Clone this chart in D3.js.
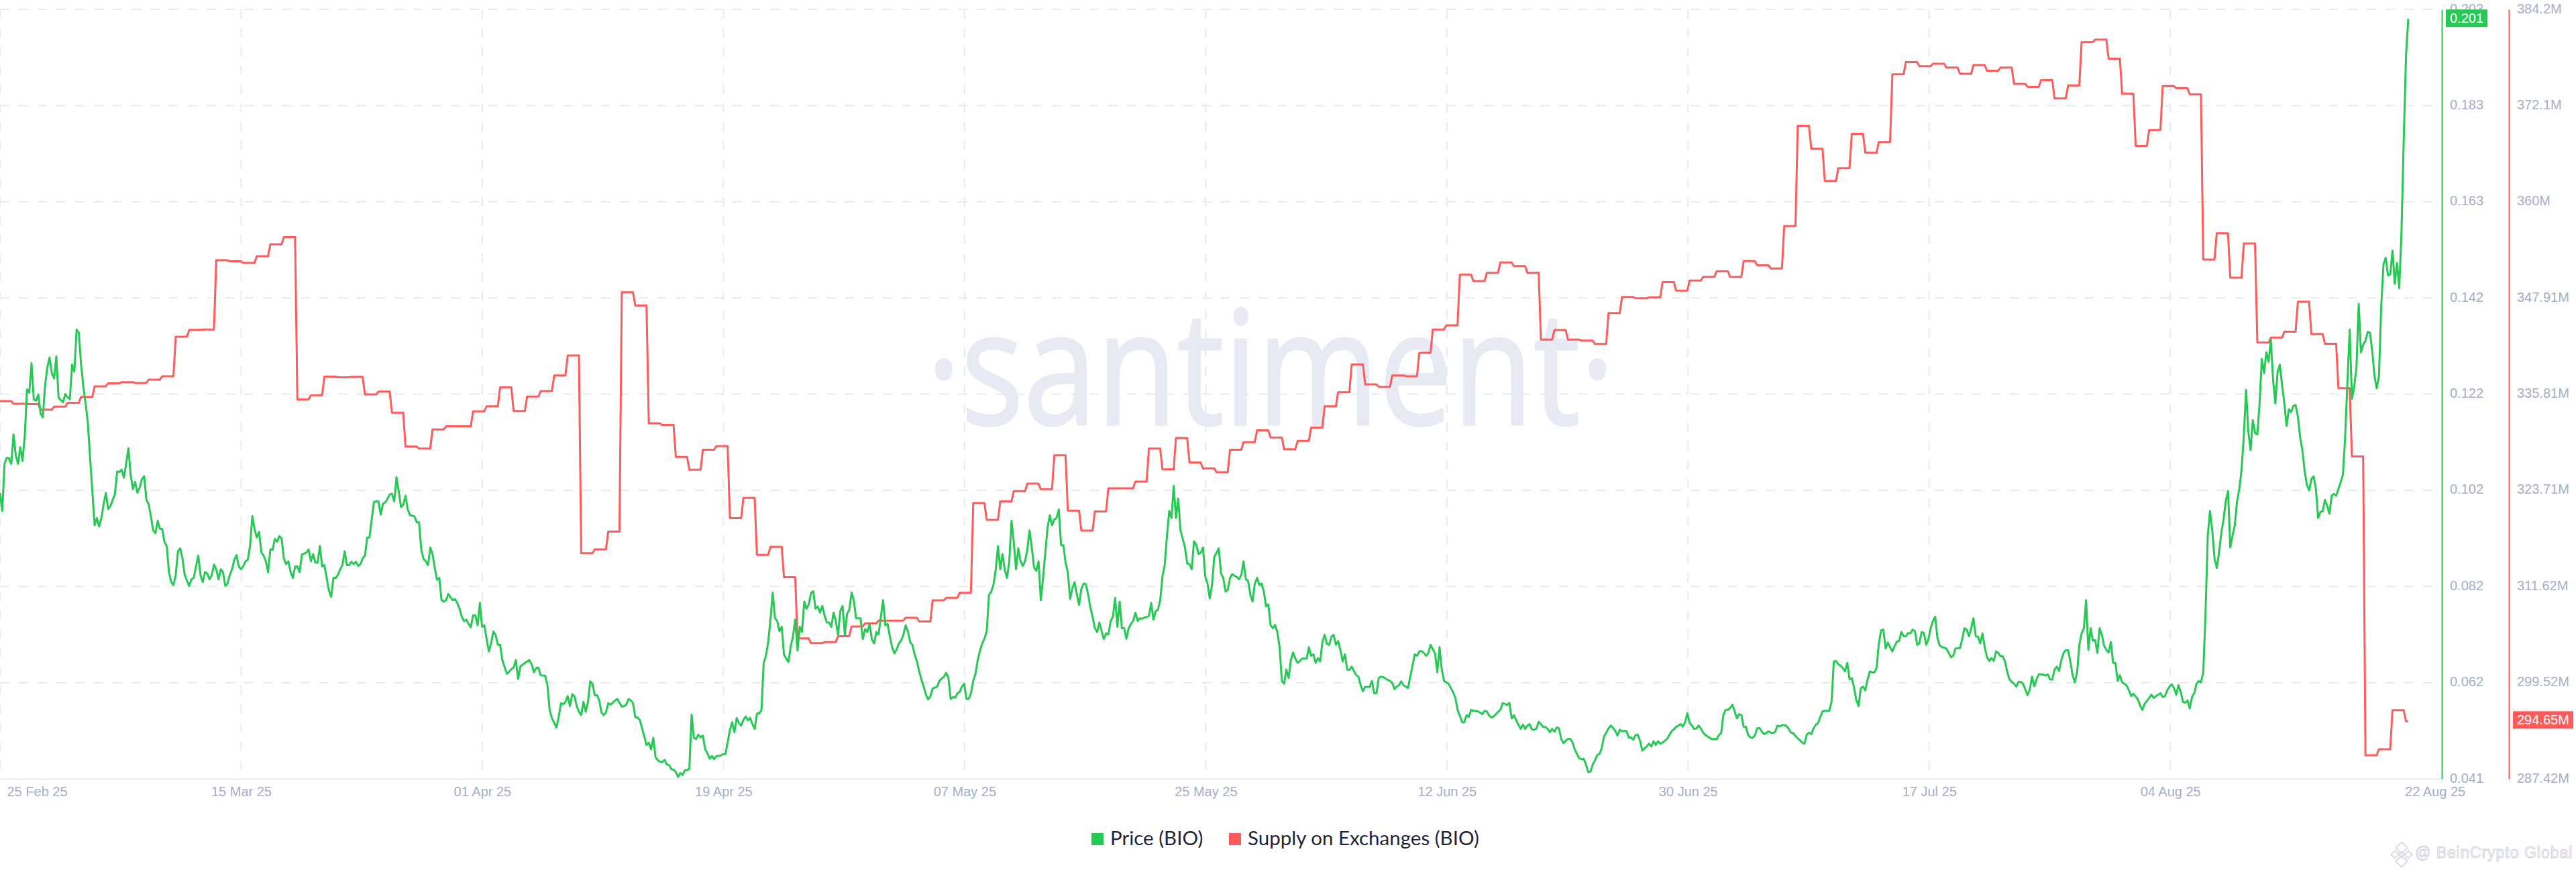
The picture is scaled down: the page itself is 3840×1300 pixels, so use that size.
<!DOCTYPE html>
<html><head>
<meta charset="UTF-8">
<style>
html,body{margin:0;padding:0;background:#fff}
svg{display:block}
text{font-family:"Liberation Sans",Arial,sans-serif}
</style>
<script src="https://cdn.jsdelivr.net/npm/d3@7"></script>
</head><body>
<svg id="chart" width="3840" height="1300"></svg>
<script>
// x axis labels, one every 17.84 days
var dateLabels = ['25 Feb 25','15 Mar 25','01 Apr 25','19 Apr 25','07 May 25','25 May 25','12 Jun 25','30 Jun 25','17 Jul 25','04 Aug 25','22 Aug 25'];
var tickStepDays = 17.84;

var priceTicks = [0.041,0.06125,0.0815,0.10175,0.122,0.14225,0.1625,0.18275,0.203];
var priceTickLabels = ['0.041','0.062','0.082','0.102','0.122','0.142','0.163','0.183','0.203'];
var supplyTicks = [287.42,299.52,311.62,323.71,335.81,347.91,360,372.1,384.2];
var supplyTickLabels = ['287.42M','299.52M','311.62M','323.71M','335.81M','347.91M','360M','372.1M','384.2M'];
var lastPrice = 0.201, lastSupply = 294.65;

// supply on exchanges (millions), one value a day
var supplyValues = [
334.93,334.58,334.55,333.85,334.23,334.72,335.46,336.79,337.17,337.31,337.21,337.63,338.05,343.02,343.89,343.93,352.65,352.51,352.30,353.14,
354.64,355.55,335.14,335.67,338.01,337.91,337.98,335.77,336.12,333.46,329.20,328.95,331.36,331.75,331.75,333.64,334.27,336.65,333.67,335.49,
336.19,338.15,340.67,315.79,316.28,318.52,348.62,346.94,332.13,331.92,327.90,326.29,328.81,329.27,320.20,322.76,315.58,316.60,312.78,305.08,
304.48,304.62,305.36,306.58,306.97,307.32,307.32,307.67,307.21,309.87,310.19,310.82,322.09,319.99,322.30,323.60,324.54,323.84,328.11,321.15,
318.63,321.04,323.95,323.95,324.79,328.95,326.33,330.28,327.20,326.47,325.98,328.81,329.76,331.25,330.35,328.88,329.93,331.60,334.27,336.05,
339.55,337.03,336.72,338.15,338.05,340.99,343.93,344.45,350.86,350.02,351.07,352.37,351.91,351.07,342.67,343.86,342.67,342.53,342.11,345.99,
348.03,347.85,347.99,349.91,348.83,350.09,350.55,351.25,350.55,352.54,352.02,351.60,356.95,369.56,366.68,362.62,364.23,368.54,366.16,367.52,
376.03,377.57,377.05,377.36,376.87,376.10,377.19,376.49,376.87,374.84,374.46,375.30,372.99,374.63,380.09,380.41,377.99,373.58,367.03,369.03,
374.56,374.28,373.51,352.72,356.04,350.44,354.75,342.28,342.91,343.65,347.43,343.37,342.14,336.54,327.97,290.37,291.14,296.04,294.65
];

// BIO price, one value every 4 hours
var priceValues = [
.1012,.0974,.1073,.1086,.1085,.1073,.1135,.1091,.1073,.1108,.1079,.1132,.1230,.1223,.1285,.1209,.1206,.1219,.1179,.1171,
.1238,.1276,.1297,.1264,.1253,.1299,.1213,.1207,.1203,.1220,.1213,.1209,.1282,.1267,.1356,.1349,.1282,.1235,.1200,.1159,
.1085,.1015,.0944,.0959,.0941,.0959,.0988,.1012,.0978,.0984,.0997,.1009,.1057,.1056,.1061,.1044,.1073,.1106,.1050,.1020,
.1035,.1012,.1023,.1041,.1047,.0997,.0988,.0962,.0933,.0927,.0953,.0936,.0936,.0909,.0900,.0845,.0824,.0818,.0839,.0889,
.0895,.0874,.0839,.0827,.0816,.0830,.0833,.0857,.0880,.0839,.0824,.0845,.0842,.0830,.0839,.0861,.0851,.0830,.0851,.0845,
.0816,.0821,.0839,.0851,.0871,.0881,.0857,.0851,.0858,.0868,.0871,.0900,.0963,.0935,.0918,.0930,.0887,.0880,.0868,.0845,
.0893,.0892,.0915,.0909,.0921,.0916,.0874,.0862,.0868,.0845,.0833,.0857,.0857,.0845,.0882,.0884,.0886,.0893,.0868,.0883,
.0865,.0865,.0900,.0857,.0860,.0833,.0807,.0793,.0833,.0833,.0839,.0851,.0860,.0889,.0860,.0860,.0867,.0862,.0867,.0858,
.0862,.0874,.0880,.0918,.0918,.0956,.0993,.0994,.0994,.0966,.0989,.0992,.0999,.1009,.1010,.0994,.1045,.1015,.0982,.0987,
.1006,.0977,.0965,.0964,.0962,.0950,.0950,.0892,.0873,.0868,.0860,.0897,.0883,.0854,.0829,.0833,.0786,.0783,.0786,.0799,
.0792,.0786,.0788,.0780,.0768,.0751,.0742,.0745,.0736,.0729,.0754,.0754,.0733,.0780,.0730,.0733,.0704,.0678,.0695,.0720,
.0713,.0692,.0692,.0660,.0645,.0631,.0635,.0641,.0644,.0660,.0620,.0647,.0650,.0654,.0657,.0660,.0651,.0634,.0643,.0644,
.0628,.0627,.0627,.0607,.0555,.0537,.0528,.0518,.0540,.0569,.0567,.0572,.0584,.0563,.0588,.0584,.0563,.0551,.0544,.0572,
.0551,.0572,.0615,.0610,.0586,.0586,.0575,.0549,.0544,.0550,.0569,.0566,.0570,.0575,.0578,.0570,.0562,.0563,.0566,.0578,
.0575,.0569,.0540,.0539,.0534,.0516,.0499,.0481,.0486,.0472,.0496,.0455,.0449,.0446,.0445,.0450,.0440,.0439,.0430,.0429,
.0424,.0414,.0422,.0418,.0428,.0428,.0431,.0545,.0496,.0494,.0503,.0497,.0501,.0472,.0464,.0452,.0458,.0451,.0458,.0458,
.0459,.0462,.0462,.0487,.0513,.0529,.0508,.0538,.0527,.0522,.0534,.0541,.0533,.0538,.0525,.0515,.0547,.0548,.0554,.0654,
.0669,.0698,.0745,.0802,.0748,.0742,.0721,.0730,.0671,.0663,.0656,.0689,.0710,.0745,.0680,.0730,.0719,.0783,.0768,.0777,
.0801,.0805,.0768,.0773,.0760,.0774,.0754,.0739,.0739,.0730,.0760,.0742,.0713,.0763,.0774,.0713,.0757,.0766,.0802,.0786,
.0748,.0748,.0748,.0704,.0725,.0719,.0736,.0704,.0695,.0719,.0714,.0751,.0786,.0733,.0736,.0710,.0687,.0674,.0682,.0695,
.0701,.0713,.0733,.0721,.0698,.0692,.0672,.0657,.0637,.0619,.0604,.0587,.0577,.0584,.0600,.0602,.0604,.0616,.0621,.0625,
.0633,.0622,.0578,.0582,.0581,.0590,.0593,.0604,.0610,.0578,.0578,.0590,.0616,.0631,.0660,.0680,.0695,.0705,.0721,.0797,
.0804,.0819,.0851,.0900,.0851,.0883,.0851,.0833,.0868,.0953,.0909,.0851,.0895,.0868,.0858,.0868,.0892,.0933,.0897,.0855,
.0848,.0868,.0786,.0833,.0886,.0939,.0965,.0944,.0956,.0959,.0977,.0902,.0902,.0865,.0845,.0789,.0810,.0824,.0798,.0776,
.0810,.0821,.0820,.0798,.0771,.0751,.0727,.0719,.0739,.0721,.0704,.0716,.0714,.0742,.0751,.0791,.0730,.0783,.0727,.0727,
.0705,.0727,.0736,.0742,.0760,.0742,.0748,.0747,.0749,.0751,.0753,.0780,.0745,.0763,.0766,.0786,.0836,.0860,.0921,.0974,
.0959,.1027,.0959,.1000,.0933,.0915,.0897,.0863,.0862,.0851,.0910,.0903,.0883,.0886,.0897,.0836,.0821,.0790,.0818,.0877,
.0886,.0895,.0842,.0833,.0804,.0808,.0833,.0841,.0837,.0835,.0830,.0839,.0868,.0830,.0827,.0798,.0783,.0821,.0833,.0818,
.0821,.0804,.0773,.0777,.0733,.0727,.0734,.0719,.0687,.0616,.0610,.0640,.0622,.0660,.0676,.0663,.0654,.0658,.0663,.0663,
.0663,.0687,.0669,.0672,.0654,.0664,.0657,.0698,.0713,.0694,.0692,.0709,.0713,.0692,.0700,.0681,.0657,.0672,.0640,.0639,
.0646,.0637,.0628,.0625,.0607,.0594,.0604,.0603,.0603,.0616,.0590,.0590,.0622,.0625,.0624,.0621,.0618,.0616,.0612,.0599,
.0604,.0607,.0615,.0607,.0604,.0601,.0625,.0648,.0672,.0669,.0678,.0679,.0675,.0669,.0674,.0692,.0683,.0674,.0634,.0687,
.0640,.0616,.0613,.0610,.0601,.0593,.0581,.0555,.0543,.0529,.0529,.0544,.0540,.0555,.0553,.0553,.0552,.0549,.0546,.0553,
.0552,.0543,.0539,.0541,.0546,.0551,.0555,.0569,.0568,.0565,.0570,.0537,.0544,.0533,.0524,.0515,.0524,.0515,.0522,.0525,
.0514,.0513,.0516,.0530,.0525,.0519,.0519,.0515,.0508,.0515,.0509,.0518,.0516,.0494,.0485,.0490,.0494,.0494,.0487,.0472,
.0462,.0453,.0451,.0452,.0440,.0424,.0425,.0440,.0449,.0460,.0462,.0475,.0499,.0507,.0516,.0522,.0517,.0511,.0501,.0513,
.0510,.0511,.0510,.0497,.0497,.0492,.0502,.0503,.0490,.0469,.0474,.0478,.0484,.0478,.0489,.0481,.0489,.0484,.0486,.0490,
.0494,.0502,.0510,.0514,.0519,.0522,.0525,.0520,.0529,.0548,.0528,.0522,.0515,.0516,.0522,.0516,.0507,.0502,.0499,.0496,
.0493,.0494,.0493,.0502,.0506,.0545,.0555,.0555,.0559,.0566,.0552,.0537,.0546,.0544,.0519,.0519,.0502,.0497,.0496,.0502,
.0516,.0517,.0510,.0504,.0506,.0510,.0507,.0506,.0509,.0522,.0520,.0523,.0523,.0521,.0515,.0507,.0506,.0500,.0495,.0491,
.0486,.0484,.0503,.0507,.0504,.0516,.0524,.0527,.0540,.0552,.0553,.0553,.0553,.0572,.0657,.0658,.0651,.0648,.0643,.0636,
.0654,.0619,.0622,.0602,.0575,.0563,.0601,.0604,.0596,.0619,.0636,.0634,.0634,.0643,.0695,.0723,.0724,.0684,.0697,.0687,
.0678,.0689,.0699,.0700,.0719,.0710,.0710,.0717,.0716,.0724,.0721,.0692,.0695,.0719,.0717,.0692,.0704,.0727,.0742,.0751,
.0707,.0691,.0687,.0686,.0684,.0675,.0666,.0669,.0684,.0685,.0685,.0704,.0727,.0724,.0710,.0727,.0748,.0710,.0709,.0695,
.0716,.0687,.0666,.0658,.0664,.0658,.0678,.0675,.0668,.0668,.0657,.0635,.0619,.0614,.0610,.0604,.0614,.0614,.0610,.0598,
.0586,.0598,.0625,.0605,.0619,.0630,.0630,.0629,.0627,.0630,.0619,.0619,.0640,.0646,.0637,.0660,.0675,.0681,.0681,.0657,
.0628,.0613,.0634,.0692,.0716,.0727,.0786,.0681,.0727,.0701,.0702,.0675,.0727,.0713,.0690,.0681,.0676,.0698,.0654,.0654,
.0616,.0628,.0613,.0610,.0606,.0596,.0584,.0589,.0583,.0577,.0564,.0555,.0568,.0574,.0580,.0587,.0580,.0584,.0587,.0590,
.0582,.0584,.0596,.0604,.0609,.0601,.0587,.0607,.0593,.0572,.0570,.0575,.0558,.0582,.0590,.0610,.0616,.0613,.0634,.0757,
.0921,.0974,.0933,.0874,.0854,.0886,.0927,.0956,.0994,.1016,.0897,.0922,.0944,.0994,.1020,.1061,.1132,.1229,.1141,.1102,
.1165,.1138,.1135,.1200,.1294,.1264,.1308,.1288,.1335,.1250,.1200,.1267,.1282,.1238,.1200,.1153,.1188,.1182,.1195,.1197,
.1173,.1129,.1102,.1058,.1029,.1017,.1041,.1047,.1020,.0959,.0972,.0973,.0997,.0985,.0968,.1006,.1010,.1006,.1020,.1035,
.1050,.1132,.1247,.1356,.1210,.1235,.1276,.1410,.1308,.1324,.1332,.1351,.1349,.1311,.1258,.1232,.1258,.1405,.1493,.1507,
.1470,.1472,.1522,.1452,.1496,.1443,.1563,.1757,.1932,.2010
];

var GREEN = '#26c953', RED = '#ff5b5b', GRID = '#e7e9f3', TICK = '#a4aec8';
var plotRight = 3640, supplyAxisX = 3740, gridRight = 3626, plotTop = 14, plotBottom = 1161;

var svg = d3.select('#chart');

var x = d3.scaleLinear().domain([0, 180.65]).range([0, plotRight]);
var yPrice = d3.scaleLinear().domain([0.041, 0.203]).range([plotBottom, plotTop]);
var ySupply = d3.scaleLinear().domain([287.42, 384.2]).range([plotBottom, plotTop]);

// watermark
svg.append('text')
  .attr('x', 1381).attr('y', 633)
  .attr('textLength', 1026).attr('lengthAdjust', 'spacingAndGlyphs')
  .style('font-family', '"Open Sans"').style('font-size', '237px')
  .attr('fill', GRID).attr('stroke', GRID).attr('stroke-width', 3)
  .text('·santiment·');

// grid
var tickDays = dateLabels.map(function(d, i){ return i * tickStepDays; });
var grid = svg.append('g').attr('stroke', GRID).attr('stroke-width', 2).attr('stroke-dasharray', '14 14');
grid.selectAll('.h').data(priceTicks.slice(1)).enter().append('line')
  .attr('x1', 0).attr('x2', gridRight)
  .attr('y1', function(d){ return yPrice(d); }).attr('y2', function(d){ return yPrice(d); });
grid.selectAll('.v').data(tickDays.slice(0, -1)).enter().append('line')
  .attr('y1', plotTop).attr('y2', plotBottom)
  .attr('x1', function(d){ return x(d); }).attr('x2', function(d){ return x(d); });

// supply holds through each day, then moves to the next value
var supplyPoints = [];
supplyValues.forEach(function(v, i){
  supplyPoints.push([i, v]);
  supplyPoints.push([i + (i == supplyValues.length - 1 ? 0.15 : 0.83), v]);
});
var supplyLine = d3.line().x(function(d){ return x(d[0]); }).y(function(d){ return ySupply(d[1]); });
var priceLine = d3.line().x(function(d, i){ return x(i / 6); }).y(function(d){ return yPrice(d); });

svg.append('path').datum(supplyPoints).attr('d', supplyLine)
  .attr('fill', 'none').attr('stroke', RED).attr('stroke-width', 3).attr('stroke-linejoin', 'round');
svg.append('path').datum(priceValues).attr('d', priceLine)
  .attr('fill', 'none').attr('stroke', GREEN).attr('stroke-width', 3).attr('stroke-linejoin', 'round');

// x axis
var xAxis = svg.append('g').attr('transform', 'translate(0,' + plotBottom + ')')
  .call(d3.axisBottom(x).tickValues(tickDays).tickSize(0).tickSizeOuter(0)
    .tickFormat(function(d, i){ return dateLabels[i]; }));
xAxis.select('.domain').attr('stroke', GRID).attr('stroke-width', 2);
xAxis.selectAll('text').attr('y', 26).attr('dy', 0).attr('fill', TICK).style('font-size', '20px');
xAxis.selectAll('.tick').filter(function(d, i){ return i == 0; }).select('text').attr('text-anchor', 'start').attr('x', 10);
xAxis.selectAll('.tick').filter(function(d, i){ return i == dateLabels.length - 1; }).select('text').attr('x', 35);

// right axes
function sideAxis(scale, ticks, labels, color, left){
  var g = svg.append('g').attr('transform', 'translate(' + left + ',0)')
    .call(d3.axisRight(scale).tickValues(ticks).tickSize(0).tickSizeOuter(0).tickPadding(12)
      .tickFormat(function(d, i){ return labels[i]; }));
  g.select('.domain').attr('stroke', color).attr('stroke-width', 2);
  g.selectAll('text').attr('dy', '0.25em').attr('fill', TICK).style('font-size', '20px');
}
sideAxis(yPrice, priceTicks, priceTickLabels, GREEN, plotRight);
sideAxis(ySupply, supplyTicks, supplyTickLabels, RED, supplyAxisX);

// last value badges
function badge(left, width, cy, color, label){
  svg.append('rect').attr('x', left).attr('y', cy - 13).attr('width', width).attr('height', 26).attr('fill', color);
  svg.append('text').attr('x', left + 6).attr('y', cy + 6.5).attr('fill', '#fff').style('font-size', '20px').text(label);
}
badge(plotRight + 6, 62, yPrice(lastPrice) - 1, GREEN, lastPrice.toFixed(3));
badge(supplyAxisX + 6, 90, ySupply(lastSupply) - 2, RED, lastSupply.toFixed(2) + 'M');

// legend
var legendItems = [
  {name: 'Price (BIO)', color: GREEN, left: 1627},
  {name: 'Supply on Exchanges (BIO)', color: RED, left: 1832}
];
var legend = svg.selectAll('.legend').data(legendItems).enter().append('g')
  .attr('transform', function(d){ return 'translate(' + d.left + ',1242)'; });
legend.append('rect').attr('width', 18).attr('height', 18).attr('fill', function(d){ return d.color; });
legend.append('text').attr('x', 28).attr('y', 18).attr('fill', '#1f2537')
  .style('font-family', 'Lato').style('font-size', '29.5px')
  .text(function(d){ return d.name; });

// BeinCrypto mark, bottom right
var mark = svg.append('g').attr('transform', 'translate(3580,1274)')
  .attr('fill', 'none').attr('stroke', '#d9dce8').attr('stroke-width', 2);
[[0,-10,6],[-10,0,4],[10,0,4],[0,10,6],[0,0,3]].forEach(function(m){
  mark.append('rect').attr('x', m[0] - m[2]).attr('y', m[1] - m[2]).attr('width', m[2] * 2).attr('height', m[2] * 2)
    .attr('transform', 'rotate(45 ' + m[0] + ' ' + m[1] + ')');
});
svg.append('text').attr('x', 3600).attr('y', 1279)
  .attr('fill', '#fff').attr('stroke', '#cfd3e0').attr('stroke-width', 1)
  .style('font-size', '23px').style('letter-spacing', '1px')
  .text('@ BeinCrypto Global');
</script>
</body></html>
